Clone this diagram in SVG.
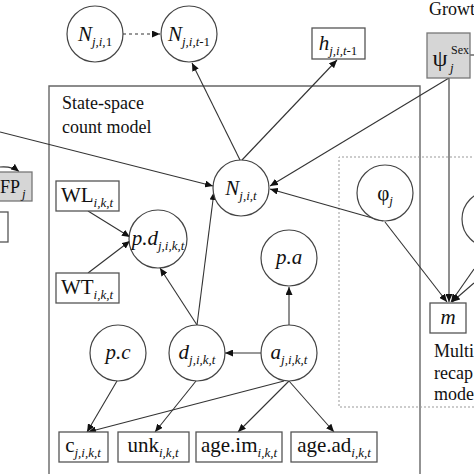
<svg xmlns="http://www.w3.org/2000/svg" width="474" height="474" viewBox="0 0 474 474">
<defs>
<marker id="ar" markerUnits="userSpaceOnUse" markerWidth="9" markerHeight="7" refX="8" refY="3.5" orient="auto">
<path d="M0,0 L8,3.5 L0,7 z" fill="#111"/>
</marker>
<style>
.nd circle{fill:#fff;stroke:#444;stroke-width:1.2}
.nd rect{fill:#fff;stroke:#555;stroke-width:1.3}
.nd rect.g{fill:#d6d6d6;stroke:#777}
text{font-family:"Liberation Serif","Times New Roman",serif;fill:#111}
.lb{font-size:21px;text-anchor:middle}
.it{font-style:italic}
.sb{font-size:13px}
.ttl{font-size:18px}
.cn line,.cn path{stroke:#333;stroke-width:1.1;fill:none}
.cn .a{marker-end:url(#ar)}
.frame{fill:none;stroke:#666;stroke-width:1.4}
.dot{fill:none;stroke:#999;stroke-width:1;stroke-dasharray:2,2}
</style>
</defs>
<rect x="0" y="0" width="474" height="474" fill="#fff"/>

<path class="frame" d="M49,480 V86 H420 V480"/>
<path class="dot" d="M480,157 H339 V407 H480"/>
<text class="ttl" x="62" y="109">State-space</text>
<text class="ttl" x="62" y="133">count model</text>
<text class="ttl" x="429" y="15">Growt</text>
<text class="ttl" x="434" y="357">Multi</text>
<text class="ttl" x="434" y="379">recap</text>
<text class="ttl" x="434" y="400">mode</text>

<g class="cn">
<line x1="123" y1="34" x2="160" y2="34" class="a" stroke-dasharray="3,3"/>
<line x1="240" y1="160" x2="192" y2="63" class="a"/>
<line x1="242" y1="160" x2="337" y2="60" class="a"/>
<line x1="449" y1="78" x2="270" y2="186" class="a"/>
<line x1="383" y1="221" x2="270" y2="189" class="a"/>
<line x1="0" y1="132" x2="213" y2="186" class="a"/>
<line x1="197" y1="325" x2="214" y2="192" class="a"/>
<line x1="88" y1="211" x2="130" y2="237" class="a"/>
<line x1="88" y1="273" x2="130" y2="241" class="a"/>
<line x1="197" y1="325" x2="160" y2="268" class="a"/>
<line x1="289" y1="325" x2="289" y2="287" class="a"/>
<line x1="261" y1="353" x2="225" y2="353" class="a"/>
<line x1="117" y1="381" x2="87" y2="432" class="a"/>
<line x1="196" y1="381" x2="155" y2="432" class="a"/>
<line x1="284" y1="381" x2="88" y2="432" class="a"/>
<line x1="289" y1="381" x2="238" y2="432" class="a"/>
<line x1="289" y1="381" x2="334" y2="432" class="a"/>
<line x1="385" y1="222" x2="447" y2="302" class="a"/>
<line x1="449" y1="78" x2="449" y2="302" class="a"/>
<line x1="474" y1="269" x2="451" y2="302" class="a"/>
<line x1="474" y1="283" x2="452" y2="302" class="a"/>
<line x1="470" y1="55" x2="474" y2="55"/>
<path d="M0,167 Q12,166 19,171.5" class="a"/>
</g>

<g id="n1" class="nd"><circle cx="95" cy="34" r="28"/>
<text class="lb" x="95" y="41"><tspan class="it">N</tspan><tspan class="sb" dy="5"><tspan class="it">j,i,</tspan>1</tspan></text></g>
<g id="nt1" class="nd"><circle cx="189" cy="34" r="28"/>
<text class="lb" x="189" y="41"><tspan class="it">N</tspan><tspan class="sb" dy="5"><tspan class="it">j,i,t</tspan>-1</tspan></text></g>
<g id="h" class="nd"><rect x="312" y="28" width="53" height="31"/>
<text class="lb" x="338" y="50"><tspan class="it">h</tspan><tspan class="sb" dy="5"><tspan class="it">j,i,t</tspan>-1</tspan></text></g>
<g id="psi" class="nd"><rect class="g" x="427" y="33" width="43" height="45"/>
<text x="440" y="66" style="font-size:24px;text-anchor:middle">ψ</text>
<text x="451" y="54" style="font-size:12px">Sex</text>
<text class="it" x="450" y="72" style="font-size:13px">j</text></g>
<g id="nt" class="nd"><circle cx="241" cy="188" r="28"/>
<text class="lb" x="241" y="195"><tspan class="it">N</tspan><tspan class="sb it" dy="5">j,i,t</tspan></text></g>
<g id="phi" class="nd"><circle cx="385" cy="193" r="28"/>
<text class="lb" x="385" y="200">φ<tspan class="sb it" dy="5">j</tspan></text></g>
<g id="rc" class="nd"><circle cx="490" cy="219" r="28"/></g>
<g id="m" class="nd"><rect x="430" y="303" width="36" height="30"/>
<text class="lb it" x="448" y="324">m</text></g>
<g id="fp" class="nd"><rect class="g" x="-2" y="172" width="34" height="29"/>
<text x="0" y="193" style="font-size:18px">FP</text>
<text class="it sb" x="22" y="198">j</text></g>
<g id="lb2" class="nd"><rect x="-2" y="212" width="10" height="30"/></g>
<g id="wl" class="nd"><rect x="56" y="181" width="63" height="30"/>
<text class="lb" x="87" y="202">WL<tspan class="sb it" dy="5">i,k,t</tspan></text></g>
<g id="wt" class="nd"><rect x="56" y="273" width="63" height="30"/>
<text class="lb" x="87" y="294">WT<tspan class="sb it" dy="5">i,k,t</tspan></text></g>
<g id="pd" class="nd"><circle cx="158" cy="239" r="29"/>
<text class="lb it" x="158" y="245">p.d<tspan class="sb" dy="5">j,i,k,t</tspan></text></g>
<g id="pa" class="nd"><circle cx="289" cy="258" r="28"/>
<text class="lb it" x="289" y="264">p.a</text></g>
<g id="pc" class="nd"><circle cx="118" cy="353" r="28"/>
<text class="lb it" x="118" y="359">p.c</text></g>
<g id="d" class="nd"><circle cx="197" cy="353" r="28"/>
<text class="lb it" x="197" y="359">d<tspan class="sb" dy="5">j,i,k,t</tspan></text></g>
<g id="a" class="nd"><circle cx="289" cy="353" r="28"/>
<text class="lb it" x="289" y="359">a<tspan class="sb" dy="5">j,i,k,t</tspan></text></g>
<g id="c" class="nd"><rect x="59" y="432" width="49" height="30"/>
<text class="lb" x="83" y="452">c<tspan class="sb it" dy="5">j,i,k,t</tspan></text></g>
<g id="unk" class="nd"><rect x="118" y="432" width="71" height="30"/>
<text class="lb" x="153" y="452">unk<tspan class="sb it" dy="5">i,k,t</tspan></text></g>
<g id="aim" class="nd"><rect x="196" y="432" width="86" height="30"/>
<text class="lb" x="239" y="452">age.im<tspan class="sb it" dy="5">i,k,t</tspan></text></g>
<g id="aad" class="nd"><rect x="291" y="432" width="86" height="30"/>
<text class="lb" x="334" y="452">age.ad<tspan class="sb it" dy="5">i,k,t</tspan></text></g>
</svg>
